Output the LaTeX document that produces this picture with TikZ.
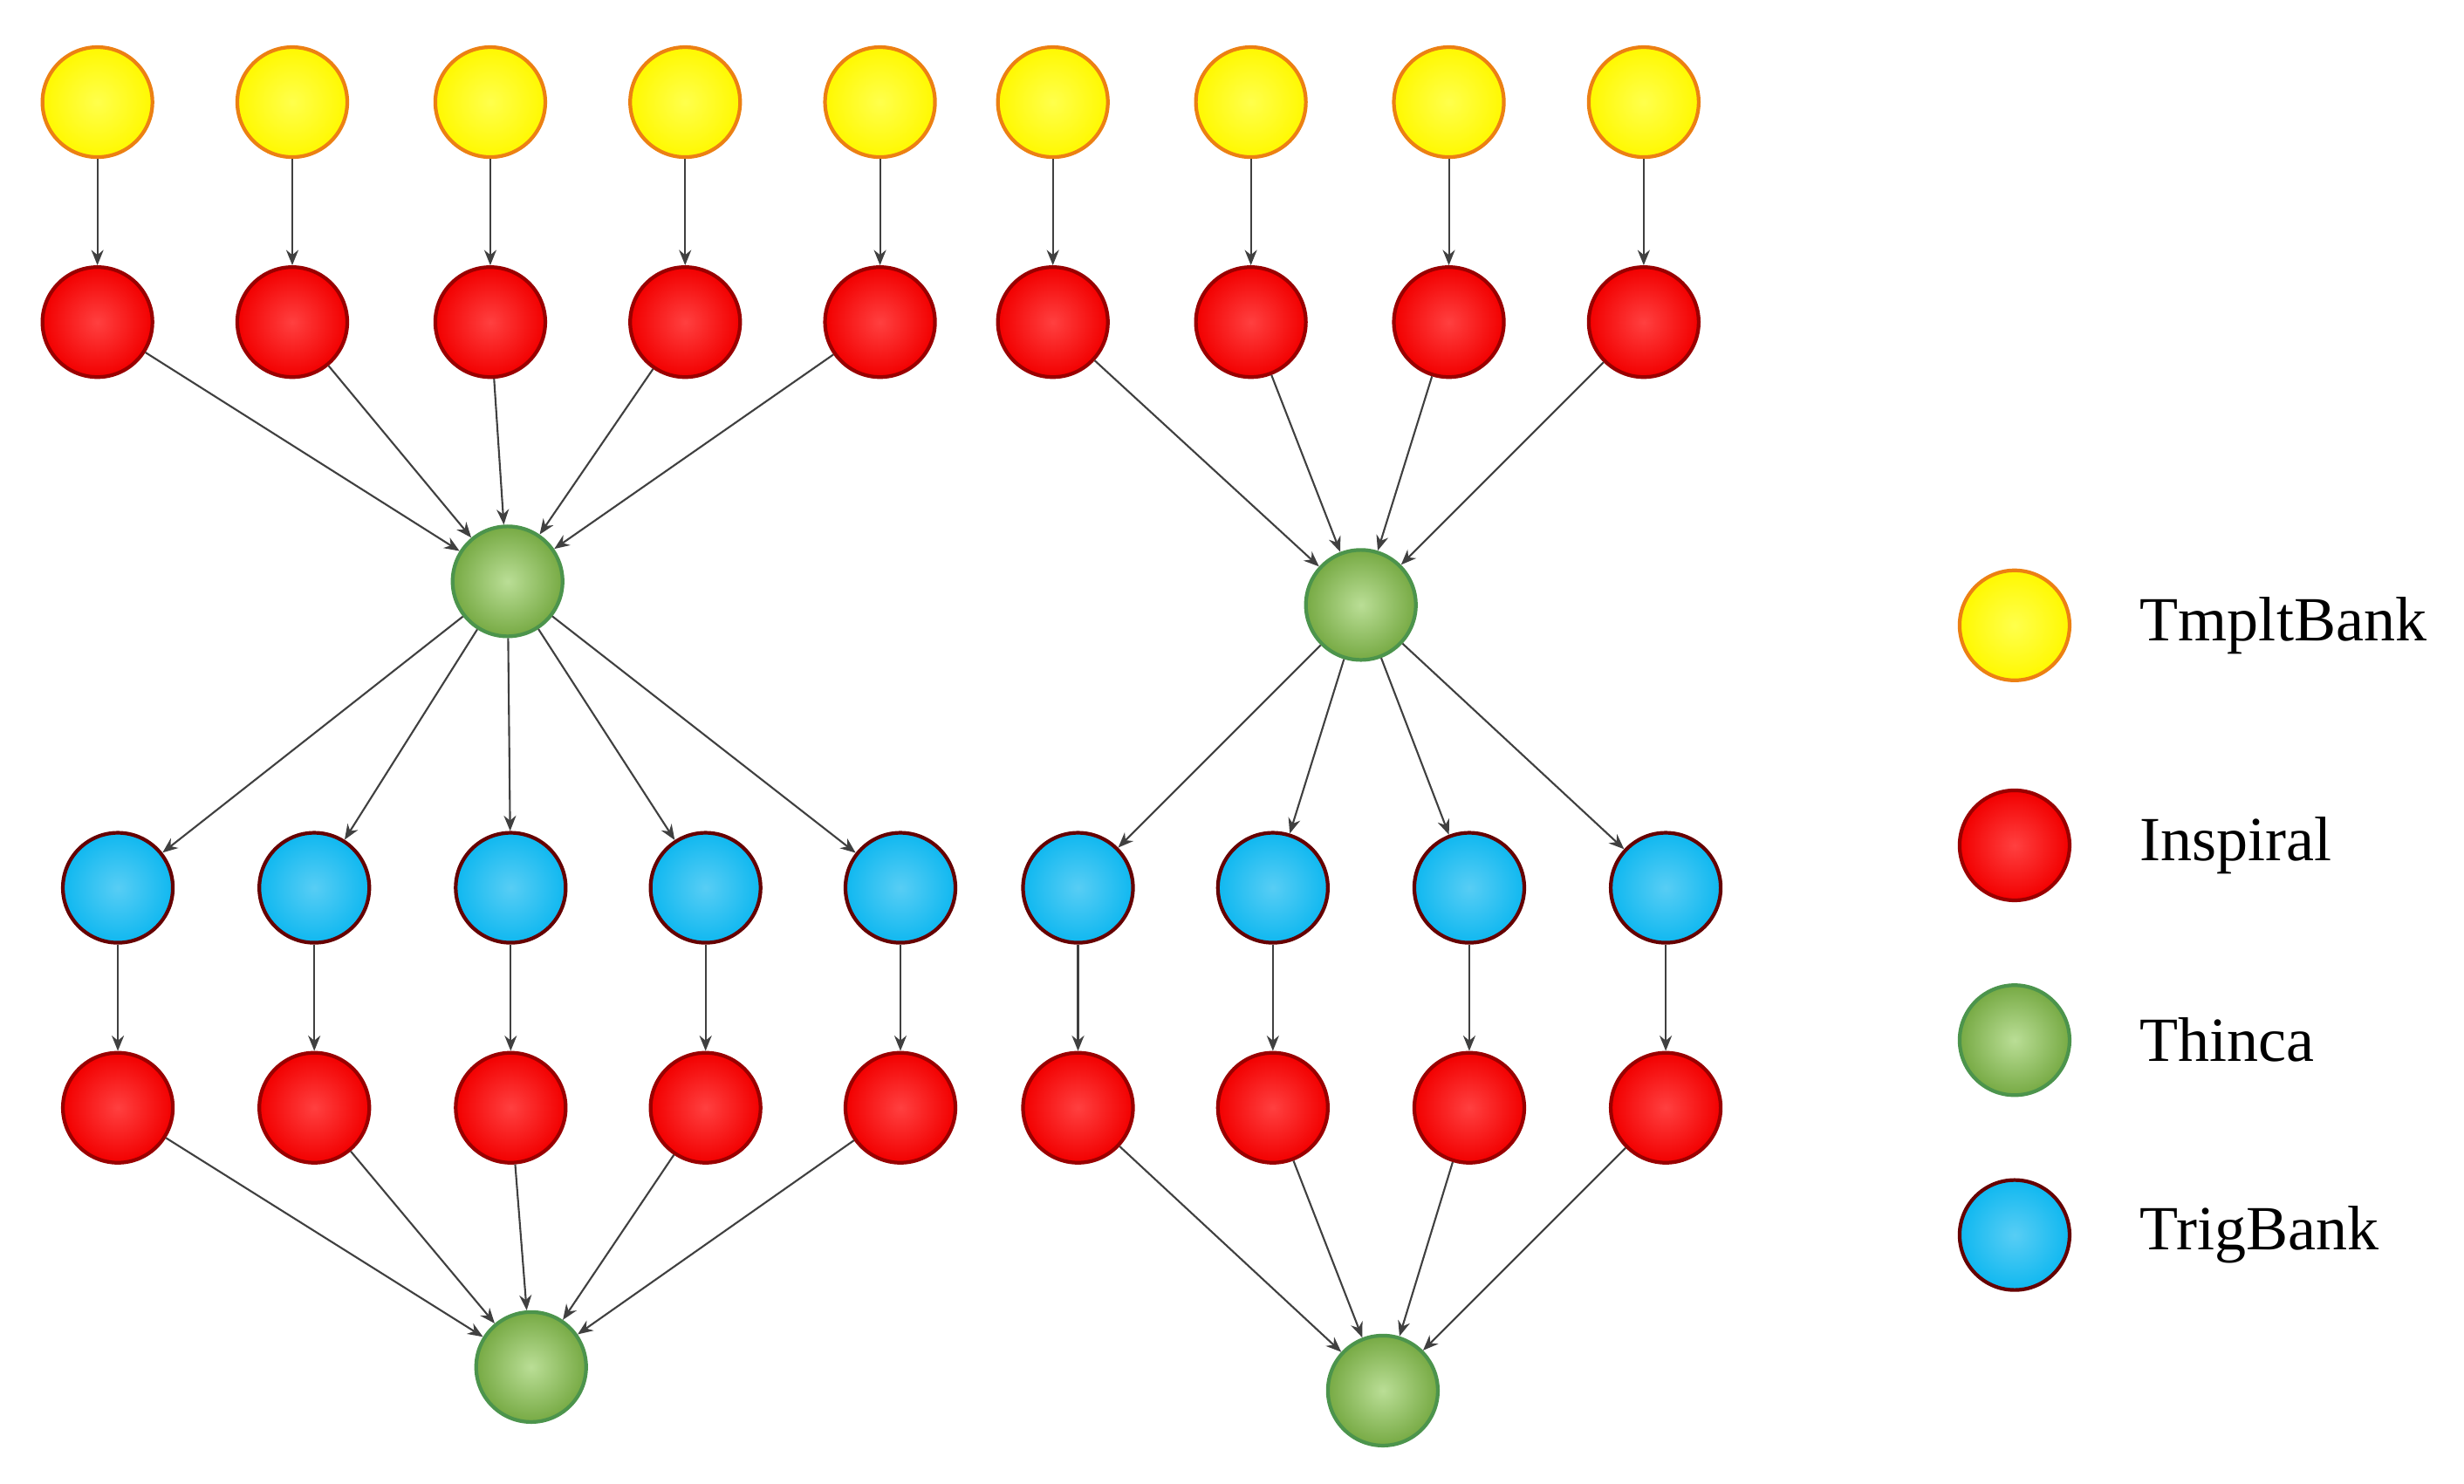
\documentclass[tikz,border=0pt]{standalone}
\usepackage{fontspec}
\setmainfont{Liberation Serif}
\usetikzlibrary{arrows.meta}
\definecolor{tb}{HTML}{10B8F0}
\definecolor{gr}{HTML}{8CC850}
\begin{document}
\begin{tikzpicture}[x=0.01801cm,y=-0.01801cm,
  job/.style={circle,minimum size=1.26cm,inner sep=0pt,draw=#1,line width=1.2pt},
  tmplt/.style={job=orange!70!brown,shading=radial,inner color=yellow!70,outer color=yellow!95!orange},
  insp/.style={job=red!60!black,shading=radial,inner color=red!75,outer color=red!95!black},
  thin/.style={job=green!40!black!70,shading=radial,inner color=gr!60!white,outer color=gr!85!black},
  trig/.style={job=red!40!black,shading=radial,inner color=tb!70!white,outer color=tb},
  edge/.style={-{Stealth[length=5pt,width=4pt]},draw=black!75,line width=0.6pt},
  lbl/.style={anchor=west,font=\fontsize{20.5}{24}\selectfont}]
\useasboundingbox (0,0) rectangle (1568,944);
\foreach \x [count=\i] in {62,186,312,436,560,670,796,922,1046}{
  \node[tmplt] (t\i) at (\x,65) {};
  \node[insp] (a\i) at (\x,205) {};
  \draw[edge] (t\i) -- (a\i);
}
\foreach \x [count=\i] in {75,200,325,449,573,686,810,935,1060}{
  \node[trig] (b\i) at (\x,565) {};
  \node[insp] (c\i) at (\x,705) {};
  \draw[edge] (b\i) -- (c\i);
}
\node[thin] (g1) at (323,370) {};
\node[thin] (g2) at (866,385) {};
\node[thin] (g3) at (338,870) {};
\node[thin] (g4) at (880,885) {};
\foreach \i in {1,...,5}{
  \draw[edge] (a\i) -- (g1);
  \draw[edge] (g1) -- (b\i);
  \draw[edge] (c\i) -- (g3);
}
\foreach \i in {6,...,9}{
  \draw[edge] (a\i) -- (g2);
  \draw[edge] (g2) -- (b\i);
  \draw[edge] (c\i) -- (g4);
}
\node[tmplt] (l1) at (1282,398) {};
\node[insp] (l2) at (1282,538) {};
\node[thin] (l3) at (1282,662) {};
\node[trig] (l4) at (1282,786) {};
\node[lbl] (n1) at (1355,398) {TmpltBank};
\node[lbl] (n2) at (1355,538) {Inspiral};
\node[lbl] (n3) at (1355,662) {Thinca};
\node[lbl] (n4) at (1355,786) {TrigBank};
\end{tikzpicture}
\end{document}
